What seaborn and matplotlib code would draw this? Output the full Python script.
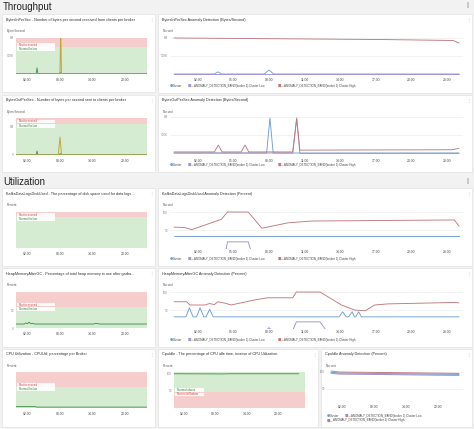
import matplotlib
matplotlib.use("Agg")
import matplotlib.pyplot as plt
from matplotlib.patches import Rectangle
import seaborn as sns
import pandas as pd

sns.set_theme(style="white")
plt.rcParams['font.family'] = ['Liberation Sans', 'DejaVu Sans']

# ---------------- data ----------------
LEFT_XTICKS = [2, 8, 14, 20]
LEFT_XLABELS = ["02:00", "08:00", "14:00", "20:00"]
RIGHT_XTICKS = [2, 5, 8, 11, 14, 17, 20, 23]
RIGHT_XLABELS = ["02:00", "05:00", "08:00", "11:00", "14:00", "17:00", "20:00", "23:00"]

# BytesInPerSec per broker (millions of bytes/s)
BIN_B1_H = [0, 3.7, 3.85, 4.0, 8.0, 8.1, 8.3, 24]
BIN_B1 = [0.01, 0.01, 0.17, 0.01, 0.01, 0.05, 0.01, 0.01]
BIN_B2_H = [0, 8.05, 8.19, 8.33, 24]
BIN_B2 = [0.0, 0.0, 1.3, 0.0, 0.0]
# BytesOutPerSec per broker
BOUT_B1_H = [0, 3.7, 3.85, 4.0, 7.9, 8.1, 8.3, 24]
BOUT_B1 = [0.01, 0.01, 0.14, 0.01, 0.01, 0.05, 0.01, 0.01]
BOUT_B2_H = [0, 7.75, 8.06, 8.35, 24]
BOUT_B2 = [0.0, 0.0, 0.63, 0.0, 0.0]
# Disk used (%)
DISK_H = [0, 24]
DISK_B1 = [1.0, 1.0]
# Heap after GC (%)
HEAP_H = [0, 1.5, 1.8, 2.1, 2.4, 2.7, 3.0, 3.5, 14.2, 14.6, 15.0, 15.4, 24]
HEAP_B1 = [11, 11, 14, 12, 16, 12, 13, 11, 11, 13, 12, 11, 11]
# CPU utilization (%)
CPU_H = [0, 3.5, 3.9, 24]
CPU_B1 = [4, 4, 2.5, 2.5]
# CPU idle (%)
IDLE_H = [0, 9.5, 10.5, 24]
IDLE_B1 = [98, 97.5, 98, 98]

# BytesInPerSec anomaly detection
AD1_CLUSTER_H = [0, 3.4, 3.7, 4.0, 7.6, 8.0, 8.4, 24]
AD1_CLUSTER = [0.0, 0.0, 0.06, 0.0, 0.0, 0.11, 0.0, 0.0]
AD1_LOW_H = [0, 24]
AD1_LOW = [-0.005, -0.005]
AD1_HIGH_H = [0, 6, 12, 18, 23.5, 24]
AD1_HIGH = [1.0, 0.985, 0.97, 0.955, 0.93, 0.86]
# BytesOutPerSec anomaly detection
AD2_CLUSTER_H = [0, 7.8, 8.08, 8.35, 24]
AD2_CLUSTER = [0.0, 0.0, 0.97, 0.0, 0.0]
AD2_LOW_H = [0, 10.0, 10.33, 10.6, 24]
AD2_LOW = [0.0, 0.0, 0.95, -0.01, -0.01]
AD2_HIGH_H = [0, 3.4, 3.73, 4.05, 5.65, 5.98, 6.3, 10.0, 10.33, 10.6, 23.4, 24]
AD2_HIGH = [0.03, 0.03, 0.22, 0.03, 0.03, 0.22, 0.03, 0.03, 0.97, 0.08, 0.09, 0.13]
# Disk used anomaly detection
AD3_CLUSTER_H = [0, 24]
AD3_CLUSTER = [33, 33]
AD3_LOW_H = [0, 4.3, 4.5, 6.25, 6.6, 24]
AD3_LOW = [-20, -20, 17, 17, -20, -20]
AD3_HIGH_H = [0, 0.9, 1.5, 4.0, 4.5, 6.25, 7.4, 9.6, 11.6, 23.6, 24]
AD3_HIGH = [58, 57, 51, 80, 100, 100, 55, 70, 75, 78, 61]
# Heap anomaly detection
AD4_CLUSTER_H = [0, 1.0, 1.3, 1.6, 1.9, 2.2, 2.5, 2.7, 3.0, 3.3,
                 13.9, 14.2, 14.5, 14.7, 15.0, 15.2, 15.3, 15.55, 15.8, 24]
AD4_CLUSTER = [31, 31, 56, 31, 31, 56, 31, 31, 52, 31,
               31, 45, 31, 31, 45, 31, 31, 45, 31, 31]
AD4_LOW_H = [0, 7.5, 8.0, 8.5, 9.9, 10.3, 12.3, 13.0, 24]
AD4_LOW = [-15, -15, 1, -15, -15, 17, 17, -15, -15]
AD4_HIGH_H = [0, 1.06, 1.34, 2.6, 3.0, 3.4, 3.7, 4.3, 4.8, 6.8, 7.9, 10.0, 10.3,
              12.3, 12.7, 14.1, 15.2, 16.1, 16.9, 18.0, 23.6, 24]
AD4_HIGH = [73, 73, 64, 64, 68, 65, 73, 69, 64, 78, 84, 84, 100,
            100, 92, 64, 50, 48, 64, 67, 71, 70]
# CPU idle anomaly detection
AD5_H = [0, 1.5, 24]
AD5_CLUSTER = [99, 97, 93]
AD5_LOW = [96, 94, 90]
AD5_HIGH = [103, 100, 96]

# ---------------- styling ----------------
W, H = 474, 429
RED_BAND = '#f6cdcd'
GREEN_BAND = '#d5ecd3'
RED_TXT = '#c53a3a'
GREEN_TXT = '#2f8c3b'
C_CLUSTER = '#6f9fd0'
C_LOW = '#9f90cf'
C_HIGH = '#be7a7e'
C_B1 = '#4e9a4e'
C_B2 = '#c2a53c'
WARN = '#e3a13a'

fig = plt.figure(figsize=(W / 100, H / 100), dpi=100)
fig.patch.set_facecolor('#f2f2f2')


def fx(x):
    return x / W


def fy(y):
    return 1 - y / H


def add_panel(x0, y0, x1, y1, title, unit):
    fig.add_artist(Rectangle((fx(x0), fy(y1)), (x1 - x0) / W, (y1 - y0) / H,
                             transform=fig.transFigure, facecolor='white',
                             edgecolor='#dcdcdc', lw=0.4, zorder=0))
    fig.text(fx(x0 + 4), fy(y0 + 5.5), title, fontsize=2.7, color='#2e2e2e',
             va='center', ha='left')
    fig.text(fx(x1 - 3.5), fy(y0 + 5.5), '\u22ee', fontsize=3.2, color='#9a9a9a',
             va='center', ha='center', family=['DejaVu Sans'])
    fig.text(fx(x0 + 5), fy(y0 + 17), unit, fontsize=2.2, color='#555555',
             va='center', ha='left')


def add_axes(box):
    x0, y0, x1, y1 = box
    ax = fig.add_axes([fx(x0), fy(y1), (x1 - x0) / W, (y1 - y0) / H])
    ax.set_facecolor('none')
    for s in ax.spines.values():
        s.set_visible(False)
    return ax


def style_axes(ax, box, tick_y, xticks, xlabels, yticks, ylabels, grid=False):
    ax.set_xlabel('')
    ax.set_ylabel('')
    ax.set_xticks(xticks)
    ax.set_xticklabels(xlabels)
    ax.set_yticks(yticks)
    ax.set_yticklabels(ylabels)
    pad = max(0.2, (tick_y - box[3] - 1.7) / 1.39)
    ax.tick_params(axis='x', labelsize=2.4, length=0, pad=pad, labelcolor='#444444')
    ax.tick_params(axis='y', labelsize=2.2, length=0, pad=1.5, labelcolor='#8a8a8a')
    if grid:
        ax.yaxis.grid(True, color='#e8e8e8', lw=0.4)
        ax.set_axisbelow(True)


def long_df(pairs):
    frames = [pd.DataFrame({'hour': h, 'value': v, 'series': name}) for name, h, v in pairs]
    return pd.concat(frames, ignore_index=True)


def threshold_chart(box, tick_y, pairs, palette, ymax, limit, yticks, ylabels,
                    xmax=24, above_ok=False, bw=0.29):
    ax = add_axes(box)
    lo_col, hi_col = (RED_BAND, GREEN_BAND) if above_ok else (GREEN_BAND, RED_BAND)
    ax.axhspan(0, limit, color=lo_col, lw=0, zorder=0)
    ax.axhspan(limit, ymax * 1.2, color=hi_col, lw=0, zorder=0)
    df = long_df(pairs)
    sns.lineplot(data=df, x='hour', y='value', hue='series',
                 hue_order=[p[0] for p in pairs], palette=palette, estimator=None,
                 legend=False, linewidth=0.7, ax=ax)
    ax.set_xlim(0, xmax)
    ax.set_ylim(0, ymax)
    style_axes(ax, box, tick_y, LEFT_XTICKS, LEFT_XLABELS, yticks, ylabels)
    hpx = box[3] - box[1]
    t = limit / ymax
    bh = 3.6 / hpx
    gap = 0.4 / hpx
    if above_ok:
        up, dn = ("Normal above", GREEN_TXT), ("Not to fall below", RED_TXT)
    else:
        up, dn = ("Not to exceed", RED_TXT), ("Normal below", GREEN_TXT)
    for (txt, col), yb in [(up, t + gap), (dn, t - gap - bh)]:
        ax.add_patch(Rectangle((0.008, yb), bw, bh, transform=ax.transAxes,
                               facecolor='white', edgecolor='none', alpha=0.92, zorder=5))
        ax.text(0.025, yb + bh / 2, txt, transform=ax.transAxes, fontsize=2.1,
                color=col, va='center', ha='left', zorder=6)
    return ax


def anomaly_chart(box, tick_y, x_px, pairs, ylim, yticks, ylabels, xticks, xlabels,
                  fill=None):
    ax = add_axes(box)
    p0, p24 = x_px
    scale = (p24 - p0) / 24.0
    if fill is not None:
        fh, flo, fhi = fill
        ax.fill_between(fh, flo, fhi, color='#dcdce9', lw=0, zorder=1)
    df = long_df(pairs)
    sns.lineplot(data=df, x='hour', y='value', hue='series',
                 hue_order=[p[0] for p in pairs],
                 palette={'Cluster': C_CLUSTER, 'Low': C_LOW, 'High': C_HIGH},
                 estimator=None, legend=False, linewidth=0.65, ax=ax)
    ax.set_xlim((box[0] - p0) / scale, (box[2] - p0) / scale)
    ax.set_ylim(*ylim)
    style_axes(ax, box, tick_y, xticks, xlabels, yticks, ylabels, grid=True)
    return ax


LOW_LABEL = "ANOMALY_DETECTION_BAND(broker 1) Cluster Low"
HIGH_LABEL = "ANOMALY_DETECTION_BAND(broker 1) Cluster High"


def legend_item(x, y, kind, color, label):
    if kind == 'dot':
        fig.text(fx(x), fy(y), '\u25cf', fontsize=2.6, color=color, va='center',
                 ha='left', family=['DejaVu Sans'])
        fig.text(fx(x + 3), fy(y), label, fontsize=2.1, color='#444444',
                 va='center', ha='left')
    else:
        fig.text(fx(x), fy(y), '\u25a0', fontsize=2.6, color=color, va='center',
                 ha='left', family=['DejaVu Sans'])
        fig.text(fx(x + 2.6), fy(y), '\u26a0', fontsize=2.4, color=WARN, va='center',
                 ha='left', family=['DejaVu Sans'])
        fig.text(fx(x + 5.6), fy(y), label, fontsize=2.1, color='#444444',
                 va='center', ha='left')


def legend_row(y):
    legend_item(170, y, 'dot', C_CLUSTER, 'Cluster')
    legend_item(188, y, 'band', C_LOW, LOW_LABEL)
    legend_item(278, y, 'band', C_HIGH, HIGH_LABEL)


# ---------------- section headings ----------------
fig.text(fx(3), fy(7.5), 'Throughput', fontsize=7, color='#222222', va='center', ha='left')
fig.text(fx(3), fy(181.5), 'Utilization', fontsize=7, color='#222222', va='center', ha='left')
for yy in (5, 181):
    fig.add_artist(Rectangle((fx(466.5), fy(yy + 3)), 2 / W, 6 / H, transform=fig.transFigure,
                             facecolor='#c8c8c8', edgecolor='none'))

# ---------------- panels ----------------
add_panel(2, 14, 155, 92, "BytesInPerSec - Number of bytes per second received from clients per broker", "Bytes/Second")
add_panel(158, 14, 472, 93, "BytesInPerSec Anomaly Detection (Bytes/Second)", "No unit")
add_panel(2, 95, 155, 172, "BytesOutPerSec - Number of bytes per second sent to clients per broker", "Bytes/Second")
add_panel(158, 95, 472, 172, "BytesOutPerSec Anomaly Detection (Bytes/Second)", "No unit")
add_panel(2, 188, 155, 266, "KafkaDataLogsDiskUsed - The percentage of disk space used for data logs ...", "Percent")
add_panel(158, 188, 472, 266, "KafkaDataLogsDiskUsed Anomaly Detection (Percent)", "No unit")
add_panel(2, 268, 155, 347, "HeapMemoryAfterGC - Percentage of total heap memory in use after garba...", "Percent")
add_panel(158, 268, 472, 347, "HeapMemoryAfterGC Anomaly Detection (Percent)", "No unit")
add_panel(2, 349, 155, 427, "CPU Utilization - CPUUtil, percentage per Broker", "Percent")
add_panel(158, 349, 318, 427, "CpuIdle - The percentage of CPU idle time, inverse of CPU Utilization.", "Percent")
add_panel(321, 349, 472, 427, "CpuIdle Anomaly Detection (Percent)", "No unit")

broker_pal = {'Broker 1': C_B1, 'Broker 2': C_B2}

# ---------------- left threshold charts ----------------
threshold_chart((16, 38, 147, 74), 80,
                [('Broker 1', BIN_B1_H, BIN_B1), ('Broker 2', BIN_B2_H, BIN_B2)],
                broker_pal, 1.0, 0.75, [0.5, 1.0], ['500K', '1M'])
threshold_chart((16, 118, 147, 155), 161,
                [('Broker 1', BOUT_B1_H, BOUT_B1), ('Broker 2', BOUT_B2_H, BOUT_B2)],
                broker_pal, 1.3, 1.1, [0, 1.0], ['0', '1M'])
threshold_chart((16, 212, 147, 248), 254,
                [('Broker 1', DISK_H, DISK_B1)], broker_pal, 100, 86, [], [])
threshold_chart((16, 292, 147, 328), 334,
                [('Broker 1', HEAP_H, HEAP_B1)], broker_pal, 100, 59, [0, 50], ['0', '50'])
threshold_chart((16, 372, 147, 408), 414,
                [('Broker 1', CPU_H, CPU_B1)], broker_pal, 103, 60, [], [])
threshold_chart((174, 372, 305, 408), 414,
                [('Broker 1', IDLE_H, IDLE_B1)], broker_pal, 103, 45, [50, 100], ['50', '100'],
                xmax=25.2, above_ok=True, bw=0.22)

# ---------------- right anomaly charts ----------------
RX = (174, 459)
RBOX_X = (170, 463)
anomaly_chart((RBOX_X[0], 34, RBOX_X[1], 77), 80, RX,
              [('Cluster', AD1_CLUSTER_H, AD1_CLUSTER), ('Low', AD1_LOW_H, AD1_LOW),
               ('High', AD1_HIGH_H, AD1_HIGH)],
              (-0.083, 1.11), [0.5, 1.0], ['500K', '1M'], RIGHT_XTICKS, RIGHT_XLABELS)
legend_row(86)
anomaly_chart((RBOX_X[0], 113, RBOX_X[1], 156), 161, RX,
              [('Cluster', AD2_CLUSTER_H, AD2_CLUSTER), ('Low', AD2_LOW_H, AD2_LOW),
               ('High', AD2_HIGH_H, AD2_HIGH)],
              (-0.083, 1.11), [0.5, 1.0], ['500K', '1M'], RIGHT_XTICKS, RIGHT_XLABELS)
legend_row(165)
anomaly_chart((RBOX_X[0], 207, RBOX_X[1], 248.5), 252, RX,
              [('Cluster', AD3_CLUSTER_H, AD3_CLUSTER), ('Low', AD3_LOW_H, AD3_LOW),
               ('High', AD3_HIGH_H, AD3_HIGH)],
              (-1.4, 114), [50, 100], ['50', '100'], RIGHT_XTICKS, RIGHT_XLABELS)
legend_row(259)
anomaly_chart((RBOX_X[0], 287, RBOX_X[1], 328.5), 332, RX,
              [('Cluster', AD4_CLUSTER_H, AD4_CLUSTER), ('Low', AD4_LOW_H, AD4_LOW),
               ('High', AD4_HIGH_H, AD4_HIGH)],
              (-1.4, 114), [50, 100], ['50', '100'], RIGHT_XTICKS, RIGHT_XLABELS)
legend_row(340)
anomaly_chart((327, 367, 463, 403), 407, (331, 459),
              [('Cluster', AD5_H, AD5_CLUSTER), ('Low', AD5_H, AD5_LOW),
               ('High', AD5_H, AD5_HIGH)],
              (8.8, 114.7), [50, 100], ['50', '100'], LEFT_XTICKS, LEFT_XLABELS,
              fill=(AD5_H, AD5_LOW, AD5_HIGH))
legend_item(327, 416, 'dot', C_CLUSTER, 'Cluster')
legend_item(345, 416, 'band', C_LOW, LOW_LABEL)
legend_item(327, 420.5, 'band', C_HIGH, HIGH_LABEL)

fig.savefig('out.png', dpi=100, facecolor=fig.get_facecolor())
